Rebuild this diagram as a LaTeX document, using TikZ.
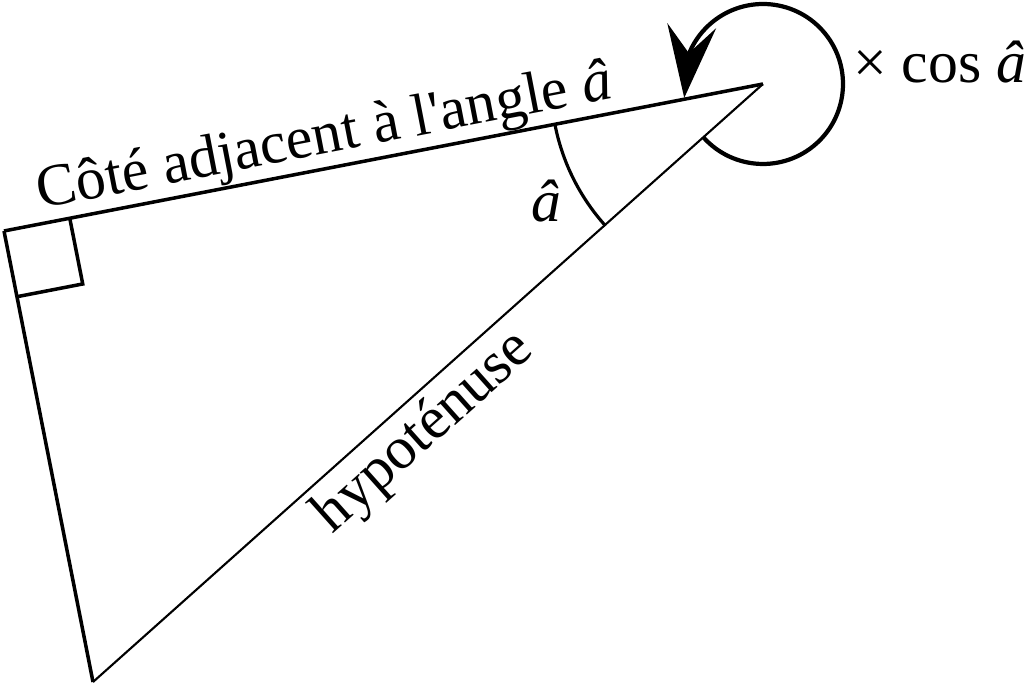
\documentclass[tikz,border=0pt]{standalone}
\usepackage{fontspec}
\setmainfont{Liberation Serif}
\usetikzlibrary{calc,arrows.meta,bending}

\begin{document}
\begin{tikzpicture}[x=0.02cm, y=0.02cm,
            side/.style={black, line width=2pt},
            hyp side/.style={black, line width=1.2pt},
            angle mark/.style={black, line width=1.8pt},
            turn/.style={black, line width=2.4pt, -{Stealth[length=1.45cm, width=0.98cm, inset=0.55cm]}},
            every node/.style={font=\fontsize{34}{40}\selectfont}]
    \useasboundingbox (0,0) rectangle (1024,688);
    \coordinate (A) at (4,457);
    \coordinate (B) at (763,604);
    \coordinate (C) at (93,6);

    \draw[side] (A) -- (B) node[pos=0.43, sloped, anchor=south, inner sep=0pt] (adj) {Côté adjacent à l\textquotesingle angle \textit{â}};
    \draw[side] (A) -- (C);
    \draw[hyp side] (C) -- (B) node[pos=0.46, sloped, anchor=north, inner sep=4pt] (hyp) {hypoténuse};
    \coordinate (r1) at ($(A)!1.34cm!(B)$);
    \coordinate (r2) at ($(A)!1.34cm!(C)$);
    \draw[side] (r1) -- ($(r1)+(r2)-(A)$) -- (r2);
    \draw[angle mark] (B) ++(191:4.24cm) arc[start angle=191, end angle=222, radius=4.24cm];
    \node[anchor=base west] (alpha) at (525,466) {\textit{â}};
    \draw[turn] (B) ++(222:1.6cm) arc[start angle=222, end angle=550, radius=1.6cm];
    \node[anchor=base west] (cos) at (847,605) {× cos \textit{â}};
\end{tikzpicture}
\end{document}
